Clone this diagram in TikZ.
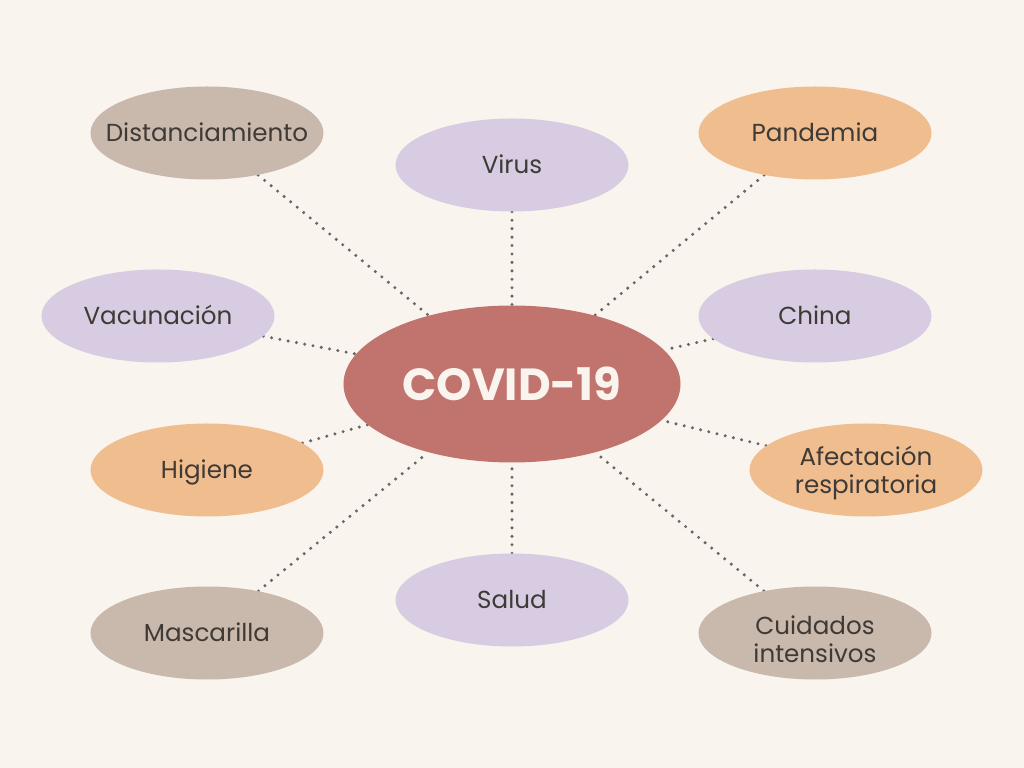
\documentclass[tikz,border=0pt]{standalone}
\usepackage{fontspec}
\setmainfont{Poppins}
\usetikzlibrary{shapes.geometric}
\pgfdeclarelayer{paperlayer}
\pgfdeclarelayer{edgelayer}
\pgfdeclarelayer{nodelayer}
\pgfsetlayers{paperlayer,edgelayer,nodelayer,main}
\definecolor{paper}{HTML}{FAF4EF}
\definecolor{taupe}{HTML}{C9B8AC}
\definecolor{lilac}{HTML}{D8CCE2}
\definecolor{peach}{HTML}{F0BD8E}
\definecolor{rose}{HTML}{C1746E}
\definecolor{ink}{HTML}{3F3A36}
\definecolor{dots}{HTML}{6A6663}
\newcommand{\lbl}[2][2pt]{\raisebox{-#1}[\height][\depth]{\makebox[0pt]{\begin{tabular}{@{}c@{}}#2\end{tabular}}}}
\tikzset{font=\fontsize{17.5}{20}\selectfont}
\tikzstyle{leaf}=[ellipse,inner sep=0pt,minimum width=5.825cm,minimum height=2.325cm,text=ink]
\tikzstyle{taupe leaf}=[leaf,fill=taupe]
\tikzstyle{lilac leaf}=[leaf,fill=lilac]
\tikzstyle{peach leaf}=[leaf,fill=peach]
\tikzstyle{hub}=[ellipse,fill=rose,inner sep=0pt,minimum width=8.425cm,minimum height=3.925cm,text=paper,font=\fontsize{32}{38}\selectfont\bfseries]
\tikzstyle{link}=[draw=dots,line width=2.4pt,line cap=round,dash pattern=on 0pt off 6pt]

\begin{document}
\begin{tikzpicture}
	\begin{pgfonlayer}{paperlayer}
		\fill [paper] (-12.8, -9.6) rectangle (12.8, 9.6);
	\end{pgfonlayer}
	\begin{pgfonlayer}{nodelayer}
		\node [style=hub] (0) at (0, 0) {COVID-19};
		\node [style=taupe leaf] (1) at (-7.625, 6.275) {\lbl{Distanciamiento}};
		\node [style=lilac leaf] (2) at (0, 5.475) {\lbl{Virus}};
		\node [style=peach leaf] (3) at (7.575, 6.275) {\lbl{Pandemia}};
		\node [style=lilac leaf] (4) at (-8.85, 1.7) {\lbl{Vacunación}};
		\node [style=lilac leaf] (5) at (7.575, 1.7) {\lbl{China}};
		\node [style=peach leaf] (6) at (-7.625, -2.15) {\lbl{Higiene}};
		\node [style=peach leaf] (7) at (8.85, -2.15) {\lbl[3pt]{Afectación\\respiratoria}};
		\node [style=lilac leaf] (8) at (0, -5.4) {\lbl{Salud}};
		\node [style=taupe leaf] (9) at (-7.625, -6.225) {\lbl{Mascarilla}};
		\node [style=taupe leaf] (10) at (7.575, -6.225) {\lbl[7pt]{Cuidados\\intensivos}};
	\end{pgfonlayer}
	\begin{pgfonlayer}{edgelayer}
		\foreach \n in {1,...,10}
			\draw [style=link] (\n) to (0);
	\end{pgfonlayer}
\end{tikzpicture}
\end{document}
